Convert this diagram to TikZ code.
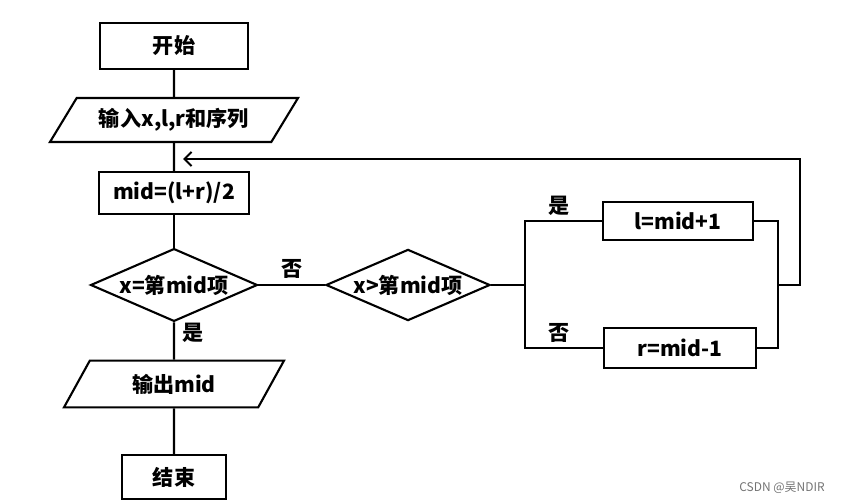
\documentclass[tikz,border=0pt]{standalone}
\usepackage{fontspec}
\setmainfont{Noto Sans CJK SC}
\usetikzlibrary{shapes.geometric,arrows.meta}

\begin{document}
\begin{tikzpicture}[x=0.025cm,y=-0.025cm,line width=1.5pt,
    font=\fontsize{15}{18}\selectfont\bfseries,
    box/.style={draw,rectangle,inner sep=2pt},
    io/.style={draw,trapezium,trapezium left angle=47,trapezium right angle=133,
        trapezium stretches body,inner sep=2pt},
    test/.style={draw,diamond,aspect=2.3,inner sep=0pt},
    lab/.style={inner sep=1pt}]
    \useasboundingbox (0,0) rectangle (841,504);
    %main column
    \node[box,minimum width=3.7cm,minimum height=1.15cm] (start) at (174,46) {开始};
    \node[io,minimum width=6.2cm,minimum height=1.1cm] (input) at (174,120) {输入x,l,r和序列};
    \node[box,minimum width=3.75cm,minimum height=1.03cm] (calc) at (174,193) {mid=(l+r)/2};
    \node[test,minimum width=4.17cm,minimum height=1.82cm] (eq) at (174,285) {x=第mid项};
    \node[io,trapezium left angle=45,trapezium right angle=135,
        minimum width=5.5cm,minimum height=1.17cm] (output) at (174,384) {输出mid};
    \node[box,minimum width=2.6cm,minimum height=1.1cm] (stop) at (174,477) {结束};
    %compare
    \node[test,minimum width=4.1cm,minimum height=1.78cm] (gt) at (408,285) {x>第mid项};
    \node[box,minimum width=3.75cm,minimum height=0.97cm] (inc) at (678,221) {l=mid+1};
    \node[box,minimum width=3.8cm,minimum height=1cm] (dec) at (680,348) {r=mid-1};
    \coordinate (fork) at (525,285);
    \coordinate (join) at (778,285);
    \coordinate (back) at (800,285);
    \coordinate (loop) at (183,159);

    \draw (start) -- (input);
    \draw (input) -- (calc);
    \draw (calc) -- (eq);
    \draw (eq) -- (output) node[lab,pos=0.28,right=4pt] (yes1) {是};
    \draw (output) -- (stop);
    \draw (eq) -- (gt) node[lab,midway,above=3pt] (no1) {否};
    \draw (gt) -- (fork);
    \draw (fork) |- (inc) node[lab,pos=0.72,above=2pt] (yes2) {是};
    \draw (fork) |- (dec) node[lab,pos=0.72,above=2pt] (no2) {否};
    \draw (inc) -| (join);
    \draw (dec) -| (join);
    %back to mid
    \draw[-{Straight Barb[length=5pt,width=10pt]}] (join) -- (back) |- (loop);

    \node[font=\fontsize{8.5}{10}\selectfont,text=black!55] (mark) at (782,488) {CSDN @吴NDIR};
\end{tikzpicture}
\end{document}
